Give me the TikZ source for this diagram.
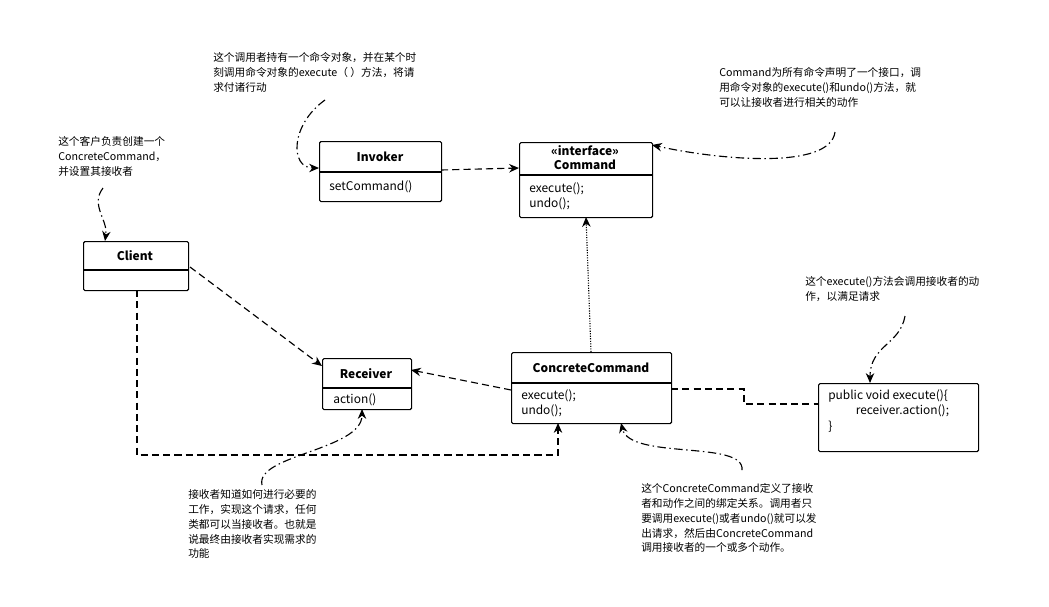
\documentclass[tikz,border=0pt]{standalone}
\usepackage{fontspec}
\setmainfont{Noto Sans CJK SC}
\usetikzlibrary{arrows.meta}
\tikzset{
	umlbox/.style={draw, thick, rounded corners=1pt, anchor=north west, inner sep=0pt},
	umltext/.style={anchor=north west, font=\fontsize{8.5}{11}\selectfont, align=left, inner sep=0pt},
	note/.style={anchor=north west, font=\fontsize{7.6}{10.6}\selectfont, align=left, inner sep=0pt},
	dep/.style={thick, dash pattern=on 5pt off 3pt, -{Stealth[length=7pt,width=6pt]}},
	notelink/.style={thick, dash pattern=on 6pt off 2.5pt on 1pt off 2.5pt, -{Stealth[length=7pt,width=6pt]}},
}
\begin{document}
	\begin{tikzpicture}[x=0.025cm, y=-0.025cm]
		\useasboundingbox (0,0) rectangle (1049,606);
		
		% classes
		\node[umlbox, minimum width=122*0.025cm, minimum height=60*0.025cm] (invoker) at (319,141) {};
		\draw[thick] (319,172) -- (441,172);
		\node[font=\fontsize{8.5}{11}\selectfont\bfseries] (invokerT) at (380,157) {Invoker};
		\node[umltext] (invokerM) at (329,180) {setCommand()};
		
		\node[umlbox, minimum width=133*0.025cm, minimum height=75*0.025cm] (command) at (519,142) {};
		\draw[thick] (519,175) -- (652,175);
		\node[font=\fontsize{8.5}{10}\selectfont\bfseries, align=center] (commandT) at (585,158) {<<interface>>\\Command};
		\node[umltext] (commandM) at (529,182) {execute();\\undo();};
		
		\node[umlbox, minimum width=105*0.025cm, minimum height=49*0.025cm] (client) at (83,241) {};
		\draw[thick] (83,270) -- (188,270);
		\node[font=\fontsize{8.5}{11}\selectfont\bfseries] (clientT) at (135,256) {Client};
		
		\node[umlbox, minimum width=89*0.025cm, minimum height=51*0.025cm] (receiver) at (322,358) {};
		\draw[thick] (322,388) -- (411,388);
		\node[font=\fontsize{8.5}{11}\selectfont\bfseries] (receiverT) at (366,374) {Receiver};
		\node[umltext] (receiverM) at (333,393) {action()};
		
		\node[umlbox, minimum width=160*0.025cm, minimum height=71*0.025cm] (concrete) at (511,352) {};
		\draw[thick] (511,383) -- (671,383);
		\node[font=\fontsize{8.5}{11}\selectfont\bfseries] (concreteT) at (591,368) {ConcreteCommand};
		\node[umltext] (concreteM) at (521,389) {execute();\\undo();};
		
		\node[umlbox, minimum width=160*0.025cm, minimum height=68*0.025cm] (code) at (818,383) {};
		\node[umltext] (codeT) at (828,389) {public void execute()\{\\\hspace*{2.3em}receiver.action();\\\}};
		
		% connectors
		\coordinate (invR) at (441,170);
		\coordinate (cmdL) at (519,168);
		\draw[dep] (invR) -- (cmdL);
		\draw[thick, densely dotted, -{Stealth[length=7pt,width=6pt]}] (591,352) -- (586,217);
		\draw[dep] (190,267) -- (322,366);
		\draw[dep] (511,390) -- (411,370);
		\draw[dep] (137,290) -- (137,455) -- (558,455) -- (558,423);
		\draw[thick, dash pattern=on 5pt off 3pt] (671,389) -- (744,389) -- (744,404) -- (818,404);
		
		% notes
		\node[note] (n1) at (213,52) {这个调用者持有一个命令对象，并在某个时\\刻调用命令对象的execute（ ）方法，将请\\求付诸行动};
		\node[note] (n2) at (719,67) {Command为所有命令声明了一个接口，调\\用命令对象的execute()和undo()方法，就\\可以让接收者进行相关的动作};
		\node[note] (n3) at (58,136) {这个客户负责创建一个\\ConcreteCommand，\\并设置其接收者};
		\node[note] (n4) at (805,276) {这个execute()方法会调用接收者的动\\作，以满足请求};
		\node[note] (n5) at (188,489) {接收者知道如何进行必要的\\工作，实现这个请求，任何\\类都可以当接收者。也就是\\说最终由接收者实现需求的\\功能};
		\node[note] (n6) at (641,483) {这个ConcreteCommand定义了接收\\者和动作之间的绑定关系。调用者只\\要调用execute()或者undo()就可以发\\出请求，然后由ConcreteCommand\\调用接收者的一个或多个动作。};
		
		\draw[notelink] (325,100) .. controls (290,125) and (290,168) .. (319,168);
		\draw[notelink] (835,132) .. controls (830,170) and (720,160) .. (652,145);
		\draw[notelink] (103,188) .. controls (90,205) and (108,220) .. (105,241);
		\draw[notelink] (905,316) .. controls (900,345) and (870,345) .. (870,383);
		\draw[notelink] (262,485) .. controls (255,455) and (362,450) .. (362,409);
		\draw[notelink] (742,470) .. controls (745,440) and (630,460) .. (621,423);
	\end{tikzpicture}
\end{document}
